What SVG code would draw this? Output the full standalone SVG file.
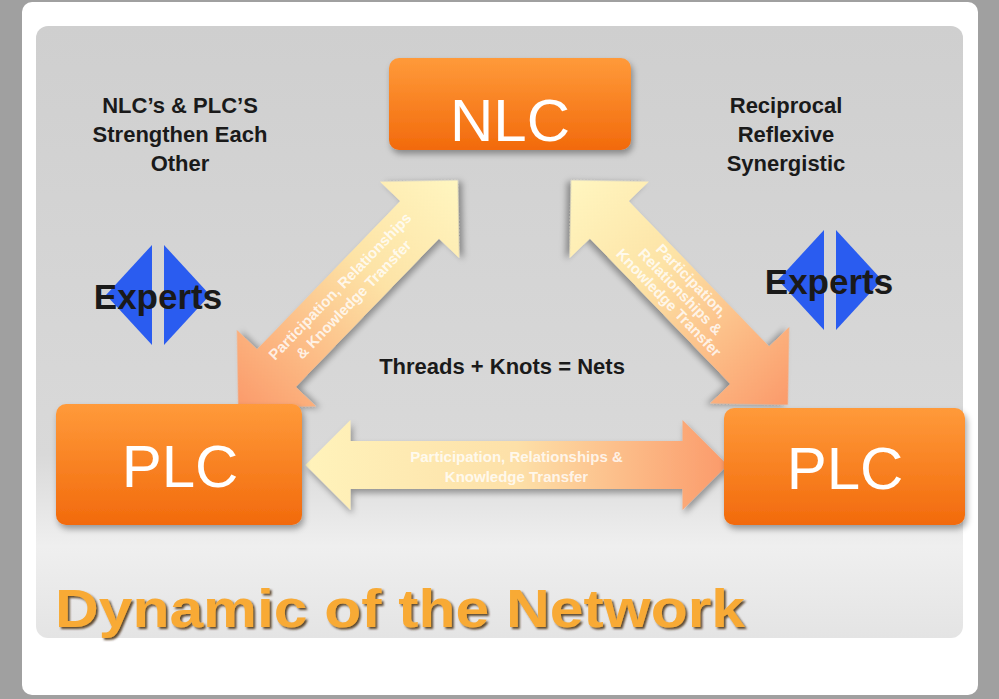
<svg xmlns="http://www.w3.org/2000/svg" width="999" height="699" viewBox="0 0 999 699">
<defs>
<linearGradient id="bg" x1="0" y1="0" x2="0" y2="1"><stop offset="0" stop-color="#cfcfcf"/><stop offset="0.7" stop-color="#d9d9d9"/><stop offset="0.85" stop-color="#efefef"/><stop offset="1" stop-color="#e4e4e4"/></linearGradient>
<linearGradient id="box" x1="0" y1="0" x2="0" y2="1"><stop offset="0" stop-color="#ff9a3a"/><stop offset="1" stop-color="#f26a0c"/></linearGradient>
<linearGradient id="arr" x1="0" y1="0" x2="1" y2="0"><stop offset="0" stop-color="#fb9a6a"/><stop offset="0.6" stop-color="#fde3a6"/><stop offset="1" stop-color="#fff6c0"/></linearGradient>
<linearGradient id="harr" x1="0" y1="0" x2="1" y2="0"><stop offset="0" stop-color="#fff3bb"/><stop offset="0.5" stop-color="#fde0a8"/><stop offset="1" stop-color="#fb9a6a"/></linearGradient>
<filter id="sh" x="-10%" y="-10%" width="130%" height="130%"><feDropShadow dx="2" dy="4" stdDeviation="3" flood-opacity="0.35"/></filter>
<filter id="tsh" x="-5%" y="-20%" width="110%" height="140%"><feDropShadow dx="2" dy="2" stdDeviation="0.8" flood-color="#3a2000" flood-opacity="0.8"/></filter>
<style>
.lbl{font-family:"Liberation Sans",Arial,sans-serif;font-weight:bold;font-size:22px;fill:#1a1a1a;text-anchor:middle}
.box{fill:url(#box);filter:url(#sh)}
.bt{font-family:"Liberation Sans",Arial,sans-serif;font-size:60px;fill:#fff;text-anchor:middle}
.at{font-family:"Liberation Sans",Arial,sans-serif;font-weight:bold;font-size:15px;fill:#fff;fill-opacity:0.8;text-anchor:middle}
.exp{font-family:"Liberation Sans",Arial,sans-serif;font-weight:bold;font-size:35px;fill:#1a1a1a;text-anchor:middle}
.tri{fill:#2a5cf0}
</style>
</defs>
<rect x="0" y="0" width="999" height="699" fill="#a0a0a0"/>
<rect x="22" y="2" width="956" height="693" rx="10" fill="#fff"/>
<rect x="36" y="26" width="927" height="612" rx="12" fill="url(#bg)"/>
<g id="connectors">
<g transform="translate(348,294) rotate(-46)">
<polygon points="-158,0 -103,-55 -103,-27 103,-27 103,-55 158,0 103,55 103,27 -103,27 -103,55" fill="url(#arr)" filter="url(#sh)"/>
<text class="at" x="0" y="-6">Participation, Relationships</text>
<text class="at" x="0" y="13">&amp; Knowledge Transfer</text>
</g>
<g transform="translate(679.5,292.5) rotate(46)">
<polygon points="-156,0 -101,-55 -101,-27 101,-27 101,-55 156,0 101,55 101,27 -101,27 -101,55" fill="url(#arr)" transform="scale(-1,1)" filter="url(#sh)"/>
<text class="at" x="0" y="-12" font-size="14">Participation,</text>
<text class="at" x="0" y="4" font-size="14">Relationships &amp;</text>
<text class="at" x="0" y="20" font-size="14">Knowledge Transfer</text>
</g>
<g transform="translate(516.5,465)">
<polygon points="-211,0 -166,-45 -166,-24 166,-24 166,-45 211,0 166,45 166,24 -166,24 -166,45" fill="url(#harr)" filter="url(#sh)"/>
<text class="at" x="0" y="-3">Participation, Relationships &amp;</text>
<text class="at" x="0" y="17">Knowledge Transfer</text>
</g>
</g>
<g id="nlc"><rect class="box" x="389" y="58" width="242" height="92" rx="10"/><text class="bt" x="510" y="141">NLC</text></g>
<g id="plc-left"><rect class="box" x="56" y="404" width="246" height="121" rx="10"/><text class="bt" x="180" y="487">PLC</text></g>
<g id="plc-right"><rect class="box" x="724" y="408" width="241" height="117" rx="10"/><text class="bt" x="845" y="489">PLC</text></g>
<g id="note-left"><text class="lbl" x="180" y="113">NLC’s &amp; PLC’S</text><text class="lbl" x="180" y="142">Strengthen Each</text><text class="lbl" x="180" y="171">Other</text></g>
<g id="note-right"><text class="lbl" x="786" y="113">Reciprocal</text><text class="lbl" x="786" y="142">Reflexive</text><text class="lbl" x="786" y="171">Synergistic</text></g>
<g id="center-note"><text class="lbl" x="502" y="374">Threads + Knots = Nets</text></g>
<g id="experts-left">
<polygon class="tri" points="152,245 152,345 106,295"/><polygon class="tri" points="164,245 164,345 210,295"/>
<text class="exp" x="158" y="309">Experts</text></g>
<g id="experts-right">
<polygon class="tri" points="824,230 824,330 778,280"/><polygon class="tri" points="836,230 836,330 882,280"/>
<text class="exp" x="829" y="294">Experts</text></g>
<g id="title"><text x="55" y="627" textLength="690" lengthAdjust="spacingAndGlyphs" font-family="'Liberation Sans',Arial,sans-serif" font-weight="bold" font-size="54" fill="#f8aa35" filter="url(#tsh)">Dynamic of the Network</text></g>
</svg>
